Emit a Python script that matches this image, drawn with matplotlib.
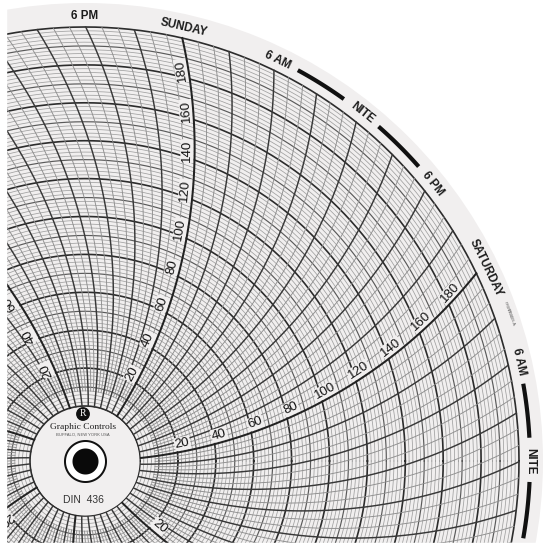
import numpy as np
import matplotlib
matplotlib.use("Agg")
import matplotlib.pyplot as plt

plt.rcParams['font.family'] = ['Liberation Sans', 'DejaVu Sans']

# ---------------- valores do disco ----------------
scale_labels = [20, 40, 60, 80, 100, 120, 140, 160, 180]
ring_values = list(range(0, 201, 2))
hours_total = 168
rim_labels = ["NITE", "6 AM", "SATURDAY", "6 PM", "NITE", "6 AM", "SUNDAY", "6 PM"]
night_steps = [-4, 0, 4]
labelled_days = [-3, -1, 0, 1, 2]

# geometria em pixeis
W = 550
cx, cy = 85, 461
paper_r = 458
inner_r = 55
outer_r = 434
rim_r = 445
paper = "#f1efef"
ink = "#1c1c1c"


def radius(v):
    return inner_r + np.asarray(v) * (outer_r - inner_r) / 200.0


def arc_angle(r, hour_angle):
    # as linhas de tempo sao arcos, nao raios
    return np.radians(hour_angle - 0.1) + np.arcsin(np.asarray(r) / 1000.0)


fig = plt.figure(figsize=(W / 100, W / 100), dpi=100, facecolor="white")
ax = fig.add_axes([(cx - paper_r) / W, (W - cy - paper_r) / W, 2 * paper_r / W, 2 * paper_r / W],
                  projection="polar", facecolor=paper)
ax.set_ylim(0, paper_r)
ax.set_xticks([])
ax.set_yticks([])
ax.grid(False)
ax.spines["polar"].set_visible(False)

full = np.linspace(0, 2 * np.pi, 720)

# ------------------ aneis ------------------
for v in ring_values:
    if v % 20 == 0:
        lw, col = 1.2, "#2c2c2c"
    elif v % 10 == 0:
        lw, col = 0.85, "#5a5a5a"
    else:
        lw, col = 0.55, "#a0a0a0"
    ax.plot(full, np.full(full.shape, radius(v)), lw=lw, color=col, zorder=2)

# ------------------ linhas de tempo ------------------
for h in range(hours_total):
    ang = h * 360.0 / hours_total
    z = 3
    if h % 24 == 0:
        lw, col, r0 = 1.45, "#222222", inner_r
        z = 5.5
    elif h % 3 == 0:
        lw, col, r0 = 1.05, "#383838", inner_r
    else:
        lw, col, r0 = 0.65, "#8e8e8e", radius(8)
    rr = np.linspace(r0, outer_r, 120)
    ax.plot(arc_angle(rr, ang), rr, lw=lw, color=col, zorder=z)

# ------------------ numeros da escala ------------------
for day in labelled_days:
    ang0 = day * 360.0 / 7
    for v in scale_labels:
        r = radius(v) + 6
        th = arc_angle(r, ang0) + 8.0 / r
        x = cx + r * np.cos(th)
        y = cy - r * np.sin(th)
        if x < -5 or y > 530:
            continue
        rot = np.degrees(arc_angle(r, ang0)) + np.degrees(np.arcsin(r / 1000.0))
        ax.text(th, r, str(v), fontsize=9.5, color="#111111", rotation=rot, rotation_mode="anchor",
                ha="center", va="center", zorder=5,
                bbox=dict(boxstyle="square,pad=0.05", fc=paper, ec="none"))

# ------------------ texto da borda ------------------
for i, name in enumerate(rim_labels):
    ang = i * 360.0 / 28
    ax.text(np.radians(ang), rim_r, name, fontsize=8.4, fontweight="bold", color=ink, rotation=ang - 90,
            rotation_mode="anchor", ha="center", va="center", zorder=5)

ax.text(np.radians(19.6), 449, "PRINTED", fontsize=3.2, color="#666666", rotation=-70,
        rotation_mode="anchor", ha="center", va="center")
ax.text(np.radians(18.6), 449, "IN U.S.A.", fontsize=3.2, color="#666666", rotation=-71,
        rotation_mode="anchor", ha="center", va="center")

for step in night_steps:
    for a, b in [(3.0, 10.0), (-10.0, -2.7)]:
        ang = step * 360.0 / 28 + np.array([a, b])
        t = np.radians(np.linspace(ang[0], ang[1], 30))
        ax.plot(t, np.full(t.shape, rim_r), lw=3.0, color="#111111", solid_capstyle="butt", zorder=5)

# ------------------ centro do disco ------------------
ax.fill_between(full, 0, inner_r - 1, color=paper, zorder=6, lw=0)
ax.fill_between(full, 0, 21.5, color="#111111", zorder=7, lw=0)
ax.fill_between(full, 0, 19.5, color="white", zorder=8, lw=0)
ax.fill_between(full, 0, 13, color="#0a0a0a", zorder=9, lw=0)

top = fig.add_axes([0, 0, 1, 1], facecolor="none")
top.set_xlim(0, W)
top.set_ylim(W, 0)
top.axis("off")
top.add_patch(plt.Circle((83, 414), 6.2, color="#111111", zorder=2))
top.text(83, 414, "R", fontsize=7, color="white", ha="center", va="center", family="Liberation Serif", zorder=3)
top.text(83, 427, "Graphic Controls", fontsize=6.8, color="#222222", ha="center", va="center", family="Liberation Serif")
top.text(83, 435, "BUFFALO, NEW YORK USA", fontsize=3, color="#555555", ha="center", va="center")
top.text(83, 500, "DIN  436", fontsize=7.5, color="#333333", ha="center", va="center")

# margens brancas da digitalizacao
top.add_patch(plt.Rectangle((0, 0), 6, W, color="white", zorder=10))
top.add_patch(plt.Rectangle((0, 543), W, W - 543, color="white", zorder=10))

fig.savefig("out.png", dpi=100, facecolor="white")
